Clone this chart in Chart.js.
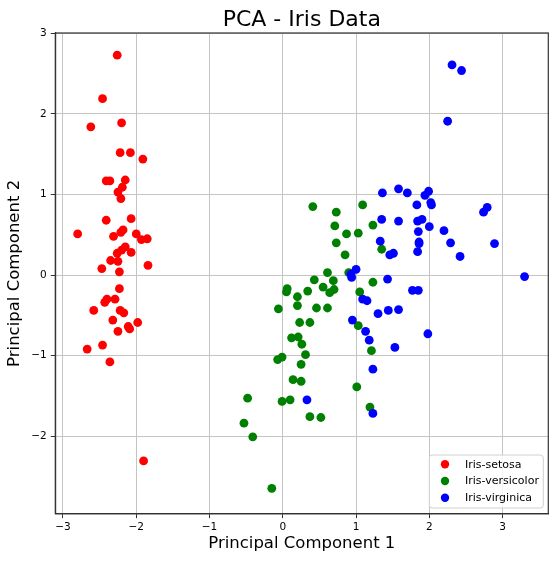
<!DOCTYPE html>
<html>
<head>
<meta charset="utf-8">
<title>PCA - Iris Data</title>
<script src="https://cdn.jsdelivr.net/npm/chart.js@4.4.1/dist/chart.umd.min.js"></script>
<style>
    html, body { margin: 0; padding: 0; background: #fff; }
    #wrap { width: 558px; height: 563px; }
</style>
</head>
<body>
<div id="wrap"><canvas id="pcaChart" width="558" height="563"></canvas></div>
<script>
// Species names (legend order)
const speciesNames = ['Iris-setosa', 'Iris-versicolor', 'Iris-virginica'];

// Principal components
const setosaPC1 = [-2.26, -2.46, -2.62, -2.20, -2.22, -2.08, -1.91, -2.41, -2.36, -2.15, -2.19, -2.25, -2.21, -2.41, -2.07, -2.80,
    -2.31, -2.21, -2.18, -2.00, -1.93, -1.85, -2.15, -2.26, -2.20, -2.07, -2.35, -2.25, -1.84, -2.47, -2.23, -2.23,
    -2.40, -2.43, -2.29, -2.58, -2.22, -2.17, -2.32, -1.98, -2.11, -2.09, -2.25, -2.46, -2.67, -2.36, -1.90];
const setosaPC2 = [2.73, 2.19, 1.84, 1.89, 1.52, 1.52, 1.44, 1.17, 1.17, 1.18, 1.09, 1.03, 0.95, 0.68, 0.70, 0.51,
    0.48, 0.53, 0.56, 0.51, 0.44, 0.45, 0.35, 0.27, 0.31, 0.28, 0.18, 0.17, 0.12, 0.08, 0.04, -0.17,
    -0.30, -0.34, -0.30, -0.44, -0.44, -0.47, -0.56, -0.59, -0.64, -0.67, -0.70, -0.87, -0.92, -1.08, -2.31];

const versicolorPC1 = [0.41, 0.73, 1.09, 0.71, 0.87, 1.03, 1.23, 0.73, 0.85, 1.35, 0.61, 0.43, 0.69, 1.23, 0.06, 0.05,
    0.34, 0.55, 0.70, 0.64, 1.05, 0.20, 0.20, -0.06, 0.46, 0.61, 0.23, 0.37, 1.03, 0.12, 0.21, 0.26,
    -0.07, -0.01, 0.31, 0.25, 0.14, 0.25, 1.21, 1.01, -0.48, -0.01, 0.10, 1.19, 0.37, 0.52, -0.53, -0.41, -0.15, 0.90];
const versicolorPC2 = [0.85, 0.78, 0.87, 0.61, 0.51, 0.52, 0.62, 0.40, 0.25, 0.32, 0.03, -0.06, -0.07, -0.09, -0.17, -0.21,
    -0.20, -0.15, -0.18, -0.22, -0.21, -0.27, -0.38, -0.42, -0.41, -0.41, -0.59, -0.59, -0.63, -0.78, -0.77, -0.86,
    -1.05, -1.02, -0.99, -1.11, -1.30, -1.32, -0.94, -1.39, -1.53, -1.57, -1.55, -1.64, -1.76, -1.77, -1.84, -2.01, -2.65, 0.03];

const virginicaPC1 = [2.31, 2.44, 2.25, 1.36, 1.58, 1.70, 1.94, 1.99, 1.83, 2.02, 2.03, 2.79, 2.74, 1.35, 1.58, 1.84,
    1.90, 2.00, 1.85, 2.20, 1.33, 1.86, 1.86, 2.29, 2.89, 1.84, 1.46, 1.51, 2.42, 1.00, 0.93, 0.94,
    3.30, 1.43, 1.77, 1.85, 1.09, 1.15, 1.30, 1.44, 1.58, 0.95, 1.13, 1.98, 1.18, 1.53, 1.23, 0.33, 1.23];
const virginicaPC2 = [2.61, 2.54, 1.91, 1.02, 1.07, 1.02, 0.99, 1.04, 0.87, 0.90, 0.87, 0.84, 0.78, 0.69, 0.67, 0.67,
    0.69, 0.60, 0.54, 0.55, 0.42, 0.41, 0.39, 0.40, 0.39, 0.29, 0.25, 0.27, 0.23, 0.07, 0.01, -0.03,
    -0.02, -0.05, -0.19, -0.19, -0.30, -0.32, -0.48, -0.44, -0.43, -0.56, -0.70, -0.73, -0.81, -0.90, -1.17, -1.55, -1.72];

// Tick labels
const xTicks = [-3, -2, -1, 0, 1, 2, 3];
const yTicks = [-2, -1, 0, 1, 2, 3];

function toPoints(xs, ys) {
    return xs.map((x, i) => ({ x: x, y: ys[i] }));
}

function minusSign(v) {
    return String(v).replace('-', '\u2212');
}

Chart.defaults.font.family = "'DejaVu Sans', sans-serif";
Chart.defaults.color = '#000';

// Top and right spines (chart.js only draws left/bottom)
const frame = {
    id: 'frame',
    afterDatasetsDraw(chart) {
        const { ctx, chartArea: a } = chart;
        ctx.save();
        ctx.strokeStyle = '#333';
        ctx.lineWidth = 1.2;
        ctx.strokeRect(a.left, a.top, a.right - a.left, a.bottom - a.top);
        ctx.restore();
    }
};

// matplotlib-style legend in the lower right corner
const legendBox = {
    id: 'legendBox',
    afterDraw(chart) {
        const { ctx, chartArea: a } = chart;
        const w = 114, h = 53;
        const x0 = a.right - 5 - w;
        const y0 = a.bottom - 5.7 - h;
        ctx.save();
        ctx.beginPath();
        ctx.roundRect(x0, y0, w, h, 3);
        ctx.fillStyle = 'rgba(255,255,255,0.8)';
        ctx.fill();
        ctx.strokeStyle = '#d0d0d0';
        ctx.lineWidth = 1;
        ctx.stroke();
        ctx.font = "11px 'DejaVu Sans'";
        ctx.textBaseline = 'middle';
        chart.data.datasets.forEach((ds, i) => {
            const cy = y0 + 9.3 + i * 16.7;
            ctx.beginPath();
            ctx.arc(x0 + 15.7, cy, 4.2, 0, Math.PI * 2);
            ctx.fillStyle = ds.backgroundColor;
            ctx.fill();
            ctx.fillStyle = '#000';
            ctx.fillText(ds.label, x0 + 35.7, cy + 0.5);
        });
        ctx.restore();
    }
};

const gridStyle = {
    color: '#c4c4c4',
    lineWidth: 1,
    tickLength: 4.5,
    tickColor: '#333',
    tickWidth: 1
};

const ctx = document.getElementById('pcaChart').getContext('2d');
const chart = new Chart(ctx, {
    type: 'scatter',
    data: {
        datasets: [
            { label: speciesNames[0], data: toPoints(setosaPC1, setosaPC2), backgroundColor: 'red', order: 2 },
            { label: speciesNames[1], data: toPoints(versicolorPC1, versicolorPC2), backgroundColor: 'green', order: 1 },
            { label: speciesNames[2], data: toPoints(virginicaPC1, virginicaPC2), backgroundColor: 'blue', order: 0 }
        ]
    },
    options: {
        responsive: false,
        animation: false,
        events: [],
        layout: { padding: { left: 0, right: 9.7, top: 0, bottom: 0 } },
        elements: { point: { radius: 4.4, borderWidth: 0, hoverRadius: 4.4 } },
        plugins: {
            legend: { display: false },
            tooltip: { enabled: false },
            title: {
                display: true,
                text: 'PCA - Iris Data',
                fullSize: false,
                color: '#000',
                font: { size: 22, weight: 'normal', lineHeight: 1 },
                padding: { top: 9, bottom: 2 }
            }
        },
        scales: {
            x: {
                type: 'linear',
                min: -3.105,
                max: 3.624,
                afterBuildTicks: s => { s.ticks = xTicks.map(v => ({ value: v })); },
                afterFit: s => { s.height = 49.3; },
                ticks: { font: { size: 10.5 }, padding: 3, maxRotation: 0, callback: v => minusSign(v) },
                grid: gridStyle,
                border: { color: '#333', width: 1.2 },
                title: {
                    display: true,
                    text: 'Principal Component 1',
                    font: { size: 16.5 },
                    padding: { top: 0, bottom: 9 }
                }
            },
            y: {
                type: 'linear',
                min: -2.965,
                max: 3.006,
                afterBuildTicks: s => { s.ticks = yTicks.map(v => ({ value: v })); },
                afterFit: s => { s.width = 55.3; },
                ticks: { font: { size: 10.5 }, padding: 4, callback: v => minusSign(v) },
                grid: gridStyle,
                border: { color: '#333', width: 1.2 },
                title: {
                    display: true,
                    text: 'Principal Component 2',
                    font: { size: 16.5 },
                    padding: { top: 4.5, bottom: 0 }
                }
            }
        }
    },
    plugins: [frame, legendBox]
});
</script>
</body>
</html>
